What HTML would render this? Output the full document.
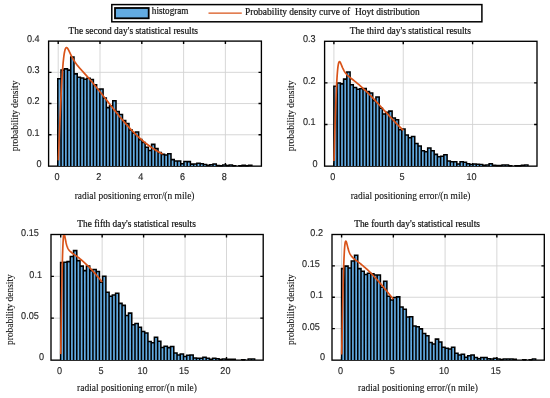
<!DOCTYPE html>
<html lang="en"><head><meta charset="utf-8"><title>Hoyt distribution histograms</title>
<style>html,body{margin:0;padding:0;background:#fff}svg{display:block}</style></head>
<body>
<svg width="550" height="398" viewBox="0 0 550 398">
<rect width="550" height="398" fill="#fff"/>
<g id="p1">
<path d="M58.2 41.1V166M100 41.1V166M141.8 41.1V166M183.6 41.1V166M225.4 41.1V166M48.6 134.78H261.4M48.6 103.55H261.4M48.6 72.33H261.4" stroke="#d2d2d2" stroke-width="0.9" fill="none"/>
<rect x="48.6" y="41.1" width="212.8" height="125.05" fill="none" stroke="#000" stroke-width="1.35"/>
<path d="M58.2 166v-2.9M58.2 41.1v2.9M100 166v-2.9M100 41.1v2.9M141.8 166v-2.9M141.8 41.1v2.9M183.6 166v-2.9M183.6 41.1v2.9M225.4 166v-2.9M225.4 41.1v2.9M48.6 134.78h2.9M261.4 134.78h-2.9M48.6 103.55h2.9M261.4 103.55h-2.9M48.6 72.33h2.9M261.4 72.33h-2.9" stroke="#000" stroke-width="1.4" fill="none"/>
<clipPath id="cp1"><rect x="48.6" y="41.7" width="212.8" height="124.3"/></clipPath>
<path d="M57.8 165.9V78.73H61.03V165.9M61.03 165.9V70.14H64.27V165.9M64.27 165.9V68.89H67.5V165.9M67.5 165.9V70.14H70.74V165.9M70.74 165.9V57.02H73.97V165.9M73.97 165.9V73.89H77.2V165.9M77.2 165.9V77.16H80.44V165.9M80.44 165.9V77.95H83.67V165.9M83.67 165.9V79.19H86.91V165.9M86.91 165.9V78.26H90.14V165.9M90.14 165.9V79.51H93.37V165.9M93.37 165.9V84.81H96.61V165.9M96.61 165.9V89.34H99.84V165.9M99.84 165.9V88.94H103.08V165.9M103.08 165.9V97.93H106.31V165.9M106.31 165.9V107.61H109.54V165.9M109.54 165.9V105.74H112.78V165.9M112.78 165.9V100.74H116.01V165.9M116.01 165.9V111.45H119.25V165.9M119.25 165.9V114.48H122.48V165.9M122.48 165.9V120.41H125.71V165.9M125.71 165.9V123.57H128.95V165.9M128.95 165.9V130.09H132.18V165.9M132.18 165.9V133.21H135.42V165.9M135.42 165.9V131.96H138.65V165.9M138.65 165.9V139.61H141.88V165.9M141.88 165.9V142.58H145.12V165.9M145.12 165.9V147.26H148.35V165.9M148.35 165.9V150.51H151.59V165.9M151.59 165.9V144.36H154.82V165.9M154.82 165.9V148.61H158.05V165.9M158.05 165.9V152.45H161.29V165.9M161.29 165.9V154.38H164.52V165.9M164.52 165.9V155.01H167.76V165.9M167.76 165.9V153.73H170.99V165.9M170.99 165.9V159.6H174.22V165.9M174.22 165.9V161H177.46V165.9M177.46 165.9V161H180.69V165.9M180.69 165.9V163.81H183.93V165.9M183.93 165.9V161.41H187.16V165.9M187.16 165.9V161.63H190.39V165.9M190.39 165.9V164.13H193.63V165.9M193.63 165.9V163.97H196.86V165.9M196.86 165.9V163.19H200.1V165.9M200.1 165.9V163.69H203.33V165.9M203.33 165.9V164.5H206.56V165.9M206.56 165.9V165.19H209.8V165.9M209.8 165.9V164.69H213.03V165.9M213.03 165.9V164H216.27V165.9M216.27 165.9V165.5H219.5V165.9M219.5 165.9V165.69H222.73V165.9M222.73 165.9V165.06H225.97V165.9M225.97 165.9V165.5H229.2V165.9M229.2 165.9V165.06H232.44V165.9M232.44 165.9V165.69H235.67V165.9M238.9 165.9V165.69H242.14V165.9M242.14 165.9V165.38H245.37V165.9M245.37 165.9V165.69H248.61V165.9M248.61 165.9V165.19H251.84V165.9" fill="#62ABE2" stroke="#000" stroke-width="1.55" stroke-linejoin="miter"/>
<polyline points="58.41,160.35 58.72,151.88 59.04,143.5 59.35,135.27 59.67,127.24 59.98,119.46 60.3,111.98 60.61,104.84 60.93,98.07 61.24,91.7 61.56,85.76 61.87,80.27 62.19,75.24 62.5,70.68 62.82,66.58 63.13,62.94 63.45,59.75 63.76,57 64.08,54.66 64.39,52.71 64.71,51.13 65.02,49.87 65.34,48.93 65.65,48.26 65.96,47.83 66.28,47.61 66.59,47.58 66.91,47.7 67.22,47.96 67.54,48.33 67.85,48.78 68.17,49.3 68.48,49.87 68.8,50.49 69.11,51.13 69.43,51.78 69.74,52.45 70.06,53.12 70.37,53.79 70.69,54.45 71,55.1 71.32,55.74 71.63,56.37 71.95,56.98 72.26,57.58 72.58,58.16 72.89,58.72 73.21,59.27 73.52,59.81 73.84,60.33 74.15,60.84 74.46,61.33 74.78,61.81 75.09,62.28 75.41,62.73 75.72,63.17 76.04,63.61 76.35,64.03 76.67,64.44 76.98,64.85 77.3,65.25 77.61,65.64 77.93,66.02 78.24,66.4 78.56,66.78 78.87,67.15 79.19,67.51 79.5,67.88 79.82,68.24 80.13,68.59 80.45,68.95 80.76,69.3 81.08,69.65 81.39,70 81.71,70.35 82.02,70.7 82.34,71.05 82.65,71.39 82.97,71.74 83.28,72.09 85.32,74.34 87.35,76.62 89.39,78.95 91.43,81.32 93.46,83.75 95.5,86.21 97.53,88.72 99.57,91.26 101.61,93.83 103.64,96.42 105.68,99.02 107.72,101.62 109.75,104.23 111.79,106.82 113.83,109.4 115.86,111.95 117.9,114.47 119.94,116.95 121.97,119.39 124.01,121.78 126.04,124.11 128.08,126.39 130.12,128.6 132.15,130.75 134.19,132.83 136.23,134.84 138.26,136.77 140.3,138.63 142.34,140.41 144.37,142.12 146.41,143.75 148.45,145.3 150.48,146.78 152.52,148.17 154.55,149.5 156.59,150.75 158.63,151.93 160.66,153.04 162.7,154.08" fill="none" stroke="#D95319" stroke-width="1.7" stroke-linejoin="round" clip-path="url(#cp1)"/>
<g font-family="'Liberation Sans', Arial, sans-serif" font-size="9.9" fill="#262626" stroke="#262626" stroke-width="0.15" text-rendering="geometricPrecision">
<text transform="translate(57.1 180.3) scale(0.92 1)" text-anchor="middle">0</text>
<text transform="translate(98.9 180.3) scale(0.92 1)" text-anchor="middle">2</text>
<text transform="translate(140.7 180.3) scale(0.92 1)" text-anchor="middle">4</text>
<text transform="translate(182.5 180.3) scale(0.92 1)" text-anchor="middle">6</text>
<text transform="translate(224.3 180.3) scale(0.92 1)" text-anchor="middle">8</text>
<text transform="translate(41.6 166.9) scale(0.92 1)" text-anchor="end">0</text>
<text transform="translate(39.6 135.58) scale(0.92 1)" text-anchor="end">0.1</text>
<text transform="translate(39.6 104.35) scale(0.92 1)" text-anchor="end">0.2</text>
<text transform="translate(39.6 73.12) scale(0.92 1)" text-anchor="end">0.3</text>
<text transform="translate(39.6 41.9) scale(0.92 1)" text-anchor="end">0.4</text>
</g>
<g font-family="'Liberation Serif', 'Times New Roman', serif" font-size="9.6" fill="#111" stroke="#111" stroke-width="0.2">
<text x="68.6" y="33.8" textLength="129.4" lengthAdjust="spacingAndGlyphs">The second day's statistical results</text>
<text x="74.7" y="198.6" stroke-width="0.1" textLength="119.8" lengthAdjust="spacingAndGlyphs">radial positioning error/(n mile)</text>
<text font-size="9.6" stroke-width="0.1" transform="translate(17.6 151.2) rotate(-90)" textLength="70.6" lengthAdjust="spacingAndGlyphs">probability density</text>
</g>
</g>
<g id="p2">
<path d="M333.9 41.3V166M403.25 41.3V166M472.6 41.3V166M324.6 124.43H537M324.6 82.86H537" stroke="#d2d2d2" stroke-width="0.9" fill="none"/>
<rect x="324.6" y="41.3" width="212.4" height="124.85" fill="none" stroke="#000" stroke-width="1.35"/>
<path d="M333.9 166v-2.9M333.9 41.3v2.9M403.25 166v-2.9M403.25 41.3v2.9M472.6 166v-2.9M472.6 41.3v2.9M324.6 124.43h2.9M537 124.43h-2.9M324.6 82.86h2.9M537 82.86h-2.9" stroke="#000" stroke-width="1.4" fill="none"/>
<clipPath id="cp2"><rect x="324.6" y="41.9" width="212.4" height="124.1"/></clipPath>
<path d="M333.9 165.9V86.19H337.13V165.9M337.13 165.9V82.94H340.37V165.9M340.37 165.9V83.86H343.6V165.9M343.6 165.9V79.12H346.84V165.9M346.84 165.9V72.05H350.07V165.9M350.07 165.9V84.65H353.3V165.9M353.3 165.9V87.43H356.54V165.9M356.54 165.9V89.34H359.77V165.9M359.77 165.9V88.68H363.01V165.9M363.01 165.9V88.47H366.24V165.9M366.24 165.9V91.59H369.47V165.9M369.47 165.9V93.04H372.71V165.9M372.71 165.9V100.74H375.94V165.9M375.94 165.9V96.99H379.18V165.9M379.18 165.9V108.34H382.41V165.9M382.41 165.9V114.04H385.64V165.9M385.64 165.9V112.17H388.88V165.9M388.88 165.9V111.13H392.11V165.9M392.11 165.9V117.95H395.35V165.9M395.35 165.9V119.73H398.58V165.9M398.58 165.9V129.83H401.81V165.9M401.81 165.9V129H405.05V165.9M405.05 165.9V135.03H408.28V165.9M408.28 165.9V137.73H411.52V165.9M411.52 165.9V136.44H414.75V165.9M414.75 165.9V143.51H417.98V165.9M417.98 165.9V146.05H421.22V165.9M421.22 165.9V150.79H424.45V165.9M424.45 165.9V151.82H427.69V165.9M427.69 165.9V148H430.92V165.9M430.92 165.9V150.79H434.15V165.9M434.15 165.9V154.36H437.39V165.9M437.39 165.9V156.69H440.62V165.9M440.62 165.9V156.27H443.86V165.9M443.86 165.9V154.73H447.09V165.9M447.09 165.9V161.09H450.32V165.9M450.32 165.9V161.76H453.56V165.9M453.56 165.9V161.76H456.79V165.9M456.79 165.9V164.05H460.03V165.9M460.03 165.9V161.84H463.26V165.9M463.26 165.9V162.26H466.49V165.9M466.49 165.9V163.71H469.73V165.9M469.73 165.9V164.5H472.96V165.9M472.96 165.9V164H476.2V165.9M476.2 165.9V164.21H479.43V165.9M479.43 165.9V164.5H482.66V165.9M482.66 165.9V165.17H485.9V165.9M485.9 165.9V165H489.13V165.9M489.13 165.9V163.71H492.37V165.9M492.37 165.9V165.17H495.6V165.9M495.6 165.9V165.58H498.83V165.9M498.83 165.9V165.58H502.07V165.9M502.07 165.9V165H505.3V165.9M505.3 165.9V165H508.54V165.9M508.54 165.9V165.67H511.77V165.9M515 165.9V165.67H518.24V165.9M518.24 165.9V165.67H521.47V165.9M521.47 165.9V165.17H524.71V165.9M524.71 165.9V165H527.94V165.9" fill="#62ABE2" stroke="#000" stroke-width="1.55" stroke-linejoin="miter"/>
<polyline points="334.04,161.05 334.25,153.62 334.46,146.28 334.67,139.07 334.87,132.03 335.08,125.21 335.29,118.65 335.5,112.38 335.71,106.44 335.92,100.85 336.13,95.64 336.34,90.81 336.55,86.39 336.75,82.37 336.96,78.76 337.17,75.55 337.38,72.73 337.59,70.29 337.8,68.2 338.01,66.46 338.22,65.04 338.43,63.9 338.64,63.03 338.84,62.4 339.05,61.98 339.26,61.74 339.47,61.66 339.68,61.72 339.89,61.89 340.1,62.15 340.31,62.49 340.52,62.89 340.72,63.33 340.93,63.8 341.14,64.29 341.35,64.8 341.56,65.31 341.77,65.82 341.98,66.33 342.19,66.83 342.4,67.32 342.6,67.8 342.81,68.26 343.02,68.71 343.23,69.15 343.44,69.57 343.65,69.98 343.86,70.37 344.07,70.74 344.28,71.1 344.49,71.45 344.69,71.78 344.9,72.1 345.11,72.41 345.32,72.71 345.53,72.99 345.74,73.27 345.95,73.53 346.16,73.78 346.37,74.03 346.57,74.27 346.78,74.5 346.99,74.72 347.2,74.94 347.41,75.15 347.62,75.36 347.83,75.56 348.04,75.75 348.25,75.95 348.45,76.14 348.66,76.32 348.87,76.51 349.08,76.69 349.29,76.87 349.5,77.04 349.71,77.22 349.92,77.39 350.13,77.56 350.34,77.73 350.54,77.9 351.9,78.98 353.25,80.04 354.6,81.11 355.95,82.2 357.3,83.3 358.65,84.44 360,85.6 361.36,86.79 362.71,88.01 364.06,89.26 365.41,90.53 366.76,91.84 368.11,93.17 369.46,94.52 370.82,95.9 372.17,97.3 373.52,98.71 374.87,100.15 376.22,101.59 377.57,103.05 378.92,104.52 380.28,105.99 381.63,107.48 382.98,108.96 384.33,110.45 385.68,111.93 387.03,113.42 388.38,114.9 389.74,116.37 391.09,117.83 392.44,119.29 393.79,120.73 395.14,122.16 396.49,123.57 397.84,124.97 399.2,126.35 400.55,127.71 401.9,129.05 403.25,130.37" fill="none" stroke="#D95319" stroke-width="1.7" stroke-linejoin="round" clip-path="url(#cp2)"/>
<g font-family="'Liberation Sans', Arial, sans-serif" font-size="9.9" fill="#262626" stroke="#262626" stroke-width="0.15" text-rendering="geometricPrecision">
<text transform="translate(332.8 180.3) scale(0.92 1)" text-anchor="middle">0</text>
<text transform="translate(402.15 180.3) scale(0.92 1)" text-anchor="middle">5</text>
<text transform="translate(471.5 180.3) scale(0.92 1)" text-anchor="middle">10</text>
<text transform="translate(317.6 166.9) scale(0.92 1)" text-anchor="end">0</text>
<text transform="translate(315.6 125.23) scale(0.92 1)" text-anchor="end">0.1</text>
<text transform="translate(315.6 83.66) scale(0.92 1)" text-anchor="end">0.2</text>
<text transform="translate(315.6 42.09) scale(0.92 1)" text-anchor="end">0.3</text>
</g>
<g font-family="'Liberation Serif', 'Times New Roman', serif" font-size="9.6" fill="#111" stroke="#111" stroke-width="0.2">
<text x="349.7" y="33.8" textLength="121.2" lengthAdjust="spacingAndGlyphs">The third day's statistical results</text>
<text x="350.7" y="198.6" stroke-width="0.1" textLength="119.8" lengthAdjust="spacingAndGlyphs">radial positioning error/(n mile)</text>
<text font-size="9.6" stroke-width="0.1" transform="translate(294.1 151.2) rotate(-90)" textLength="70.6" lengthAdjust="spacingAndGlyphs">probability density</text>
</g>
</g>
<g id="p3">
<path d="M60.7 234.5V360M102.15 234.5V360M143.6 234.5V360M185.05 234.5V360M226.5 234.5V360M51 318.16H263.2M51 276.33H263.2" stroke="#d2d2d2" stroke-width="0.9" fill="none"/>
<rect x="51" y="234.5" width="212.2" height="125.65" fill="none" stroke="#000" stroke-width="1.35"/>
<path d="M60.7 360v-2.9M60.7 234.5v2.9M102.15 360v-2.9M102.15 234.5v2.9M143.6 360v-2.9M143.6 234.5v2.9M185.05 360v-2.9M185.05 234.5v2.9M226.5 360v-2.9M226.5 234.5v2.9M51 318.16h2.9M263.2 318.16h-2.9M51 276.33h2.9M263.2 276.33h-2.9" stroke="#000" stroke-width="1.4" fill="none"/>
<clipPath id="cp3"><rect x="51" y="235.1" width="212.2" height="124.9"/></clipPath>
<path d="M60.6 359.9V262.61H63.83V359.9M63.83 359.9V262.19H67.07V359.9M67.07 359.9V261.6H70.3V359.9M70.3 359.9V256.42H73.54V359.9M73.54 359.9V250.64H76.77V359.9M76.77 359.9V260.6H80V359.9M80 359.9V266.12H83.24V359.9M83.24 359.9V270.64H86.47V359.9M86.47 359.9V266.12H89.71V359.9M89.71 359.9V270.64H92.94V359.9M92.94 359.9V269.55H96.17V359.9M96.17 359.9V271.48H99.41V359.9M99.41 359.9V282.19H102.64V359.9M102.64 359.9V276.33H105.88V359.9M105.88 359.9V292.31H109.11V359.9M109.11 359.9V296.24H112.34V359.9M112.34 359.9V294.9H115.58V359.9M115.58 359.9V293.23H118.81V359.9M118.81 359.9V303.36H122.05V359.9M122.05 359.9V305.36H125.28V359.9M125.28 359.9V315.4H128.51V359.9M128.51 359.9V313.14H131.75V359.9M131.75 359.9V324.77H134.98V359.9M134.98 359.9V323.44H138.22V359.9M138.22 359.9V327.29H141.45V359.9M141.45 359.9V331.55H144.68V359.9M144.68 359.9V333.06H147.92V359.9M147.92 359.9V341.43H151.15V359.9M151.15 359.9V342.76H154.39V359.9M154.39 359.9V337.33H157.62V359.9M157.62 359.9V341.17H160.85V359.9M160.85 359.9V347.45H164.09V359.9M164.09 359.9V346.19H167.32V359.9M167.32 359.9V347.62H170.56V359.9M170.56 359.9V346.45H173.79V359.9M173.79 359.9V352.97H177.02V359.9M177.02 359.9V354.98H180.26V359.9M180.26 359.9V353.98H183.49V359.9M183.49 359.9V356.49H186.73V359.9M186.73 359.9V355.31H189.96V359.9M189.96 359.9V354.98H193.19V359.9M193.19 359.9V357.99H196.43V359.9M196.43 359.9V358.33H199.66V359.9M199.66 359.9V358.33H202.9V359.9M202.9 359.9V357.32H206.13V359.9M206.13 359.9V358.33H209.36V359.9M209.36 359.9V359.33H212.6V359.9M212.6 359.9V358.33H215.83V359.9M215.83 359.9V358.66H219.07V359.9M219.07 359.9V359.5H222.3V359.9M222.3 359.9V359H225.53V359.9M225.53 359.9V359.33H228.77V359.9M228.77 359.9V359.33H232V359.9M232 359.9V359.33H235.24V359.9M241.7 359.9V359.67H244.94V359.9M248.17 359.9V359H251.41V359.9M251.41 359.9V359H254.64V359.9" fill="#62ABE2" stroke="#000" stroke-width="1.55" stroke-linejoin="miter"/>
<polyline points="60.78,354.12 60.91,345.3 61.03,336.57 61.16,327.99 61.28,319.62 61.41,311.5 61.53,303.69 61.66,296.21 61.78,289.11 61.91,282.42 62.03,276.17 62.16,270.37 62.28,265.03 62.41,260.17 62.53,255.78 62.66,251.86 62.78,248.4 62.91,245.38 63.03,242.79 63.16,240.6 63.28,238.79 63.41,237.33 63.53,236.19 63.66,235.35 63.78,234.76 63.9,234.41 64.03,234.26 64.15,234.29 64.28,234.46 64.4,234.76 64.53,235.17 64.65,235.65 64.78,236.19 64.9,236.78 65.03,237.41 65.15,238.05 65.28,238.7 65.4,239.36 65.53,240 65.65,240.64 65.78,241.26 65.9,241.86 66.03,242.44 66.15,242.99 66.28,243.52 66.4,244.02 66.53,244.5 66.65,244.95 66.78,245.38 66.9,245.78 67.03,246.16 67.15,246.52 67.28,246.86 67.4,247.18 67.53,247.48 67.65,247.76 67.78,248.03 67.9,248.29 68.03,248.53 68.15,248.75 68.28,248.97 68.4,249.17 68.53,249.37 68.65,249.55 68.77,249.73 68.9,249.9 69.02,250.07 69.15,250.22 69.27,250.38 69.4,250.52 69.52,250.66 69.65,250.8 69.77,250.93 69.9,251.06 70.02,251.19 70.15,251.31 70.27,251.43 70.4,251.55 70.52,251.66 70.65,251.77 71.46,252.46 72.26,253.08 73.07,253.68 73.88,254.27 74.69,254.84 75.49,255.42 76.3,256 77.11,256.59 77.92,257.19 78.73,257.8 79.53,258.43 80.34,259.08 81.15,259.73 81.96,260.41 82.76,261.1 83.57,261.81 84.38,262.53 85.19,263.27 86,264.03 86.8,264.8 87.61,265.59 88.42,266.4 89.23,267.21 90.03,268.05 90.84,268.9 91.65,269.76 92.46,270.63 93.26,271.52 94.07,272.42 94.88,273.33 95.69,274.26 96.5,275.19 97.3,276.14 98.11,277.09 98.92,278.06 99.73,279.03 100.53,280.01 101.34,281 102.15,281.99" fill="none" stroke="#D95319" stroke-width="1.7" stroke-linejoin="round" clip-path="url(#cp3)"/>
<g font-family="'Liberation Sans', Arial, sans-serif" font-size="9.9" fill="#262626" stroke="#262626" stroke-width="0.15" text-rendering="geometricPrecision">
<text transform="translate(59.6 374) scale(0.92 1)" text-anchor="middle">0</text>
<text transform="translate(101.05 374) scale(0.92 1)" text-anchor="middle">5</text>
<text transform="translate(142.5 374) scale(0.92 1)" text-anchor="middle">10</text>
<text transform="translate(183.95 374) scale(0.92 1)" text-anchor="middle">15</text>
<text transform="translate(225.4 374) scale(0.92 1)" text-anchor="middle">20</text>
<text transform="translate(44 360.4) scale(0.92 1)" text-anchor="end">0</text>
<text transform="translate(38.8 319.36) scale(0.92 1)" text-anchor="end">0.05</text>
<text transform="translate(42 277.53) scale(0.92 1)" text-anchor="end">0.1</text>
<text transform="translate(38.8 235.69) scale(0.92 1)" text-anchor="end">0.15</text>
</g>
<g font-family="'Liberation Serif', 'Times New Roman', serif" font-size="9.6" fill="#111" stroke="#111" stroke-width="0.2">
<text x="77.3" y="226.5" textLength="118.5" lengthAdjust="spacingAndGlyphs">The fifth day's statistical results</text>
<text x="77.1" y="391.1" stroke-width="0.1" textLength="119.8" lengthAdjust="spacingAndGlyphs">radial positioning error/(n mile)</text>
<text font-size="9.6" stroke-width="0.1" transform="translate(12.6 344.9) rotate(-90)" textLength="70.6" lengthAdjust="spacingAndGlyphs">probability density</text>
</g>
</g>
<g id="p4">
<path d="M341.6 234.5V360M393.35 234.5V360M445.1 234.5V360M496.85 234.5V360M332 328.62H544.3M332 297.25H544.3M332 265.88H544.3" stroke="#d2d2d2" stroke-width="0.9" fill="none"/>
<rect x="332" y="234.5" width="212.3" height="125.65" fill="none" stroke="#000" stroke-width="1.35"/>
<path d="M341.6 360v-2.9M341.6 234.5v2.9M393.35 360v-2.9M393.35 234.5v2.9M445.1 360v-2.9M445.1 234.5v2.9M496.85 360v-2.9M496.85 234.5v2.9M332 328.62h2.9M544.3 328.62h-2.9M332 297.25h2.9M544.3 297.25h-2.9M332 265.88h2.9M544.3 265.88h-2.9" stroke="#000" stroke-width="1.4" fill="none"/>
<clipPath id="cp4"><rect x="332" y="235.1" width="212.3" height="124.9"/></clipPath>
<path d="M341.6 359.9V268.64H344.83V359.9M344.83 359.9V266.13H348.07V359.9M348.07 359.9V268.01H351.3V359.9M351.3 359.9V260.92H354.54V359.9M354.54 359.9V255.21H357.77V359.9M357.77 359.9V268.64H361V359.9M361 359.9V271.27H364.24V359.9M364.24 359.9V274.47H367.47V359.9M367.47 359.9V273.15H370.71V359.9M370.71 359.9V273.84H373.94V359.9M373.94 359.9V275.04H377.17V359.9M377.17 359.9V275.04H380.41V359.9M380.41 359.9V287.21H383.64V359.9M383.64 359.9V281.31H386.88V359.9M386.88 359.9V296.25H390.11V359.9M390.11 359.9V300.07H393.34V359.9M393.34 359.9V297.5H396.58V359.9M396.58 359.9V296.87H399.81V359.9M399.81 359.9V306.91H403.05V359.9M403.05 359.9V309.17H406.28V359.9M406.28 359.9V317.02H409.51V359.9M409.51 359.9V316.7H412.75V359.9M412.75 359.9V325.99H415.98V359.9M415.98 359.9V326.68H419.22V359.9M419.22 359.9V328.88H422.45V359.9M422.45 359.9V333.46H425.68V359.9M425.68 359.9V335.65H428.92V359.9M428.92 359.9V342.43H432.15V359.9M432.15 359.9V344.06H435.39V359.9M435.39 359.9V339.1H438.62V359.9M438.62 359.9V342.05H441.85V359.9M441.85 359.9V347.26H445.09V359.9M445.09 359.9V348.33H448.32V359.9M448.32 359.9V349.02H451.56V359.9M451.56 359.9V347.26H454.79V359.9M454.79 359.9V353.29H458.02V359.9M458.02 359.9V354.98H461.26V359.9M461.26 359.9V354.29H464.49V359.9M464.49 359.9V357.3H467.73V359.9M467.73 359.9V355.67H470.96V359.9M470.96 359.9V354.98H474.19V359.9M474.19 359.9V357.49H477.43V359.9M477.43 359.9V358.75H480.66V359.9M480.66 359.9V357.49H483.9V359.9M483.9 359.9V357.49H487.13V359.9M487.13 359.9V358.75H490.36V359.9M490.36 359.9V359H493.6V359.9M493.6 359.9V358.31H496.83V359.9M496.83 359.9V359H500.07V359.9M500.07 359.9V359.5H503.3V359.9M503.3 359.9V359H506.53V359.9M506.53 359.9V359H509.77V359.9M509.77 359.9V359H513V359.9M513 359.9V359.25H516.24V359.9M522.7 359.9V359.69H525.94V359.9M529.17 359.9V359.69H532.41V359.9M532.41 359.9V359H535.64V359.9" fill="#62ABE2" stroke="#000" stroke-width="1.55" stroke-linejoin="miter"/>
<polyline points="341.7,354.44 341.86,346.09 342.02,337.84 342.17,329.73 342.33,321.81 342.48,314.13 342.64,306.74 342.79,299.67 342.95,292.95 343.11,286.63 343.26,280.72 343.42,275.23 343.57,270.19 343.73,265.59 343.89,261.44 344.04,257.74 344.2,254.47 344.35,251.62 344.51,249.17 344.67,247.11 344.82,245.4 344.98,244.03 345.13,242.96 345.29,242.17 345.45,241.62 345.6,241.3 345.76,241.17 345.91,241.2 346.07,241.38 346.22,241.67 346.38,242.06 346.54,242.53 346.69,243.06 346.85,243.63 347,244.23 347.16,244.85 347.32,245.48 347.47,246.11 347.63,246.74 347.78,247.36 347.94,247.96 348.1,248.54 348.25,249.1 348.41,249.64 348.56,250.15 348.72,250.64 348.88,251.11 349.03,251.56 349.19,251.98 349.34,252.38 349.5,252.76 349.65,253.11 349.81,253.45 349.97,253.77 350.12,254.08 350.28,254.37 350.43,254.64 350.59,254.9 350.75,255.15 350.9,255.38 351.06,255.61 351.21,255.82 351.37,256.03 351.53,256.23 351.68,256.42 351.84,256.6 351.99,256.78 352.15,256.95 352.31,257.12 352.46,257.28 352.62,257.44 352.77,257.59 352.93,257.74 353.08,257.89 353.24,258.03 353.4,258.18 353.55,258.32 353.71,258.45 353.86,258.59 354.02,258.72 355.03,259.55 356.04,260.34 357.05,261.11 358.05,261.88 359.06,262.66 360.07,263.44 361.08,264.25 362.09,265.07 363.1,265.91 364.1,266.77 365.11,267.65 366.12,268.55 367.13,269.48 368.14,270.43 369.15,271.4 370.16,272.4 371.16,273.41 372.17,274.44 373.18,275.49 374.19,276.57 375.2,277.65 376.21,278.76 377.21,279.88 378.22,281.02 379.23,282.17 380.24,283.33 381.25,284.51 382.26,285.69 383.27,286.89 384.27,288.09 385.28,289.31 386.29,290.52 387.3,291.75 388.31,292.98 389.32,294.21 390.32,295.45 391.33,296.68 392.34,297.92 393.35,299.16" fill="none" stroke="#D95319" stroke-width="1.7" stroke-linejoin="round" clip-path="url(#cp4)"/>
<g font-family="'Liberation Sans', Arial, sans-serif" font-size="9.9" fill="#262626" stroke="#262626" stroke-width="0.15" text-rendering="geometricPrecision">
<text transform="translate(340.5 374) scale(0.92 1)" text-anchor="middle">0</text>
<text transform="translate(392.25 374) scale(0.92 1)" text-anchor="middle">5</text>
<text transform="translate(444 374) scale(0.92 1)" text-anchor="middle">10</text>
<text transform="translate(495.75 374) scale(0.92 1)" text-anchor="middle">15</text>
<text transform="translate(325 360.4) scale(0.92 1)" text-anchor="end">0</text>
<text transform="translate(319.8 329.82) scale(0.92 1)" text-anchor="end">0.05</text>
<text transform="translate(323 298.45) scale(0.92 1)" text-anchor="end">0.1</text>
<text transform="translate(319.8 267.07) scale(0.92 1)" text-anchor="end">0.15</text>
<text transform="translate(323 235.7) scale(0.92 1)" text-anchor="end">0.2</text>
</g>
<g font-family="'Liberation Serif', 'Times New Roman', serif" font-size="9.6" fill="#111" stroke="#111" stroke-width="0.2">
<text x="354.2" y="226.5" textLength="125.8" lengthAdjust="spacingAndGlyphs">The fourth day's statistical results</text>
<text x="358.1" y="391.1" stroke-width="0.1" textLength="119.8" lengthAdjust="spacingAndGlyphs">radial positioning error/(n mile)</text>
<text font-size="9.6" stroke-width="0.1" transform="translate(294.4 344.9) rotate(-90)" textLength="70.6" lengthAdjust="spacingAndGlyphs">probability density</text>
</g>
</g>
<g id="legend">
<rect x="111.8" y="4.6" width="370.1" height="17.2" fill="#fff" stroke="#000" stroke-width="1.5"/>
<rect x="115.0" y="8.0" width="33.7" height="10.3" fill="#62ABE2" stroke="#000" stroke-width="1.8"/>
<path d="M208.5 13.2H241.8" stroke="#D95319" stroke-width="1.3"/>
<g font-family="'Liberation Serif', 'Times New Roman', serif" font-size="9.6" fill="#111" stroke="#111" stroke-width="0.2">
<text x="151.8" y="13.6" textLength="36.7" lengthAdjust="spacingAndGlyphs">histogram</text>
<text x="245" y="15.4" textLength="174.7" lengthAdjust="spacingAndGlyphs" xml:space="preserve">Probability density curve of  Hoyt distribution</text>
</g></g>
</svg>
</body></html>
